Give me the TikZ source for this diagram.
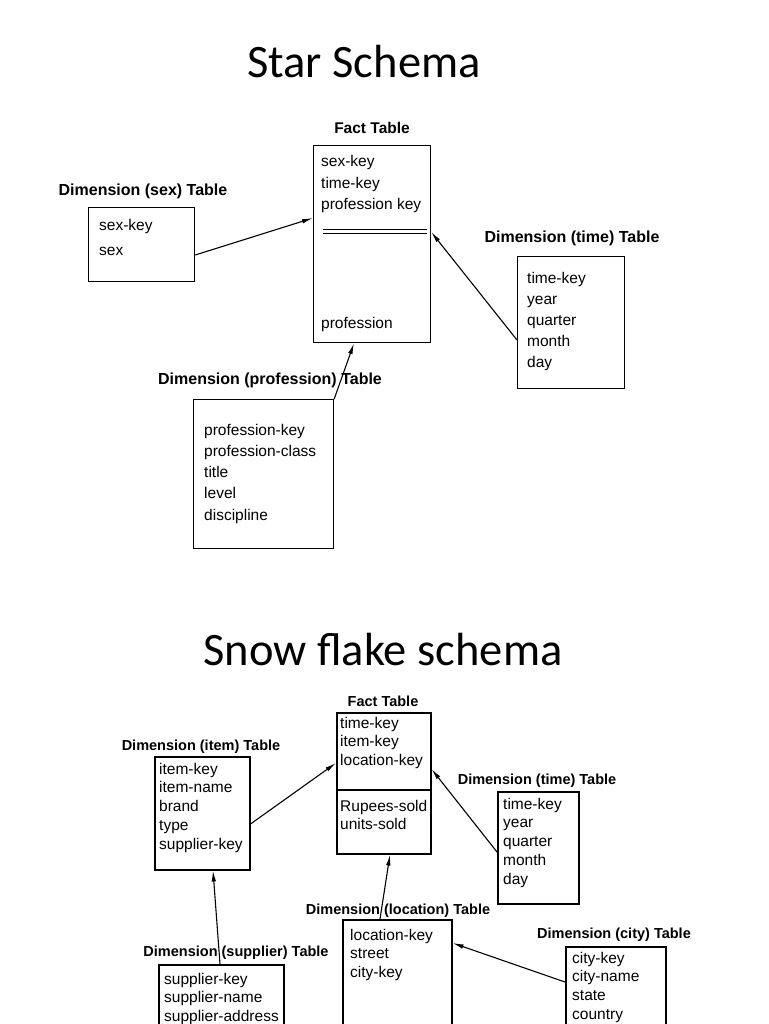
\documentclass[tikz,border=0pt]{standalone}
\usepackage{fontspec}
\setmainfont{Liberation Sans}
\newfontfamily\slidefont{Carlito}
\usetikzlibrary{arrows.meta}
\usetikzlibrary{calc}
\usetikzlibrary{positioning}
\tikzset{table box/.style={draw, line width=1.2pt, anchor=north west, inner sep=0pt}}
\tikzset{field/.style={anchor=base west, inner sep=0pt, font=\fontsize{15.5}{18}\selectfont}}
\tikzset{table name/.style={anchor=base, inner sep=0pt, font=\bfseries\fontsize{16}{18}\selectfont}}
\tikzset{small name/.style={table name, font=\bfseries\fontsize{14.5}{17}\selectfont}}
\tikzset{key link/.style={draw, line width=1.1pt, -{Latex[length=11pt,width=4.5pt]}}}
\tikzset{heading/.style={anchor=base, inner sep=0pt, font=\slidefont\fontsize{46.5}{52}\selectfont}}

\begin{document}
\begin{tikzpicture}[x=1pt,y=-1pt]
  \path [use as bounding box, fill=white] (0,0) rectangle (768,1024);
  \clip (0,0) rectangle (768,1024);

  % star schema
  \node [heading] (startitle) at (364,78) {Star Schema};

  % fact table
  \node [table name,font=\bfseries\fontsize{15.5}{18}\selectfont] (factname) at (372,134) {Fact Table};
  \node [table box,minimum width=117,minimum height=197] (fact) at (313,145) {};
  \foreach \f [count=\i] in {sex-key,time-key,profession key}
    \node [field] (fact\i) at ($(fact.north west)+(8,0.5+21.5*\i)$) {\f};
  \node [field] (fact4) at ($(fact.north west)+(8,183)$) {profession};
  \draw [line width=0.9pt] ($(fact.north west)+(10,84)$) -- ($(fact.north east)+(-4,84)$);
  \draw [line width=0.9pt] ($(fact.north west)+(10,88)$) -- ($(fact.north east)+(-4,88)$);

  % dimension tables
  \node [table name] (sexname) at (143,196) {Dimension (sex) Table};
  \node [table box,minimum width=106,minimum height=74] (sexbox) at (88,207) {};
  \foreach \f [count=\i] in {sex-key,sex}
    \node [field] (sex\i) at ($(sexbox.north west)+(11,24*\i)$) {\f};

  \node [table name] (timename) at (572,243) {Dimension (time) Table};
  \node [table box,minimum width=107,minimum height=132] (timebox) at (517,256) {};
  \foreach \f [count=\i] in {time-key,year,quarter,month,day}
    \node [field] (time\i) at ($(timebox.north west)+(10,5.8+21.2*\i)$) {\f};

  \node [table name] (profname) at (270,384) {Dimension (profession) Table};
  \node [table box,minimum width=140,minimum height=149] (profbox) at (193,399) {};
  \foreach \f [count=\i] in {profession-key,profession-class,title,level,discipline}
    \node [field] (prof\i) at ($(profbox.north west)+(11,14.75+21.25*\i)$) {\f};

  % links
  \path [key link] ($(sexbox.north east)+(0,48)$) -- ($(fact.north west)+(0,73)$);
  \path [key link] ($(timebox.north west)+(0,84)$) -- ($(fact.north east)+(0,87)$);
  \path [key link] (profbox.north east) -- ($(fact.south west)+(41,0)$);

  % snow flake schema
  \node [heading] (snowtitle) at (383,665) {Snow flake schema};

  % fact table
  \node [small name] (sfactname) at (383,706) {Fact Table};
  \node [table box,line width=1.5pt,minimum width=94,minimum height=141] (sfact) at (336,712) {};
  \foreach \f [count=\i] in {time-key,item-key,location-key}
    \node [field] (sfact\i) at ($(sfact.north west)+(4,-2.5+18.5*\i)$) {\f};
  \foreach \f [count=\i] in {Rupees-sold,units-sold}
    \node [field] (sfact\i b) at ($(sfact.north west)+(4,80.5+18.5*\i)$) {\f};
  \draw [line width=2.8pt] ($(sfact.north west)+(0,78)$) -- ($(sfact.north east)+(0,78)$);

  % dimension tables
  \node [small name] (itemname) at (201,750) {Dimension (item) Table};
  \node [table box,line width=1.5pt,minimum width=95,minimum height=113] (itembox) at (154,756) {};
  \foreach \f [count=\i] in {item-key,item-name,brand,type,supplier-key}
    \node [field] (item\i) at ($(itembox.north west)+(5,-0.75+18.75*\i)$) {\f};

  \node [small name] (stimename) at (537,784) {Dimension (time) Table};
  \node [table box,line width=1.5pt,minimum width=81,minimum height=112] (stimebox) at (497,791) {};
  \foreach \f [count=\i] in {time-key,year,quarter,month,day}
    \node [field] (stime\i) at ($(stimebox.north west)+(6,-0.75+18.75*\i)$) {\f};

  \node [small name] (locname) at (398,914) {Dimension (location) Table};
  \node [table box,line width=1.5pt,minimum width=109,minimum height=140] (locbox) at (342,919) {};
  \foreach \f [count=\i] in {location-key,street,city-key}
    \node [field] (loc\i) at ($(locbox.north west)+(8,2.5+18.5*\i)$) {\f};

  \node [small name] (cityname) at (614,938) {Dimension (city) Table};
  \node [table box,line width=1.5pt,minimum width=100,minimum height=120] (citybox) at (565,946) {};
  \foreach \f [count=\i] in {city-key,city-name,state,country}
    \node [field] (city\i) at ($(citybox.north west)+(7,-1.7+18.7*\i)$) {\f};

  \node [small name] (supname) at (236,956) {Dimension (supplier) Table};
  \node [table box,line width=1.5pt,minimum width=125,minimum height=100] (supbox) at (158,964) {};
  \foreach \f [count=\i] in {supplier-key,supplier-name,supplier-address}
    \node [field] (sup\i) at ($(supbox.north west)+(6,1.5+18.5*\i)$) {\f};

  % links
  \path [key link] ($(itembox.north east)+(0,68)$) -- ($(sfact.north west)+(0,51)$);
  \path [key link] ($(stimebox.north west)+(0,61)$) -- ($(sfact.north east)+(0,57)$);
  \path [key link] ($(locbox.north west)+(38,0)$) -- ($(sfact.south west)+(54,0)$);
  \path [key link] ($(citybox.north west)+(0,36)$) -- ($(locbox.north east)+(0,24)$);
  \path [key link] ($(supbox.north west)+(62,0)$) -- ($(itembox.south west)+(59,0)$);
\end{tikzpicture}
\end{document}
